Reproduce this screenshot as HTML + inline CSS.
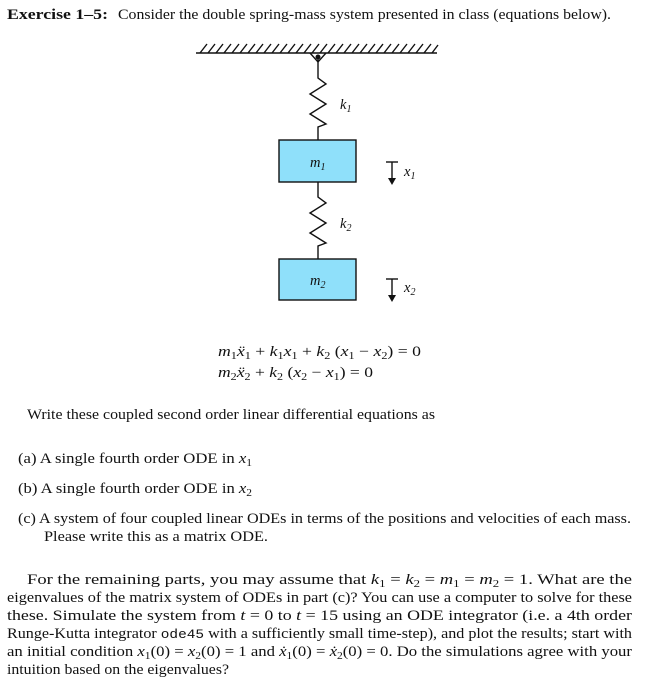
<!DOCTYPE html>
<html><head><meta charset="utf-8"><style>
html,body{margin:0;padding:0;background:#fff;}
svg{display:block;}
text{font-family:"Liberation Serif",serif;font-size:14.5px;fill:#111;}
.i{font-style:italic;}
.s{font-size:10px;}
.b{font-weight:bold;}
.m{font-family:"Liberation Mono",monospace;font-size:13px;}
</style></head><body>
<svg width="647" height="690" viewBox="0 0 647 690" xmlns="http://www.w3.org/2000/svg">
<text x="7" y="19" class="b" textLength="101" lengthAdjust="spacingAndGlyphs">Exercise 1–5:</text>
<text x="118" y="19" textLength="493" lengthAdjust="spacingAndGlyphs">Consider the double spring-mass system presented in class (equations below).</text>

<!-- ground -->
<g stroke="#111" stroke-width="1.4" fill="none">
<line x1="196" y1="53" x2="437" y2="53"/>
<path d="M200 53 l7 -9 M208 53 l7 -9 M216 53 l7 -9 M224 53 l7 -9 M232 53 l7 -9 M240 53 l7 -9 M248 53 l7 -9 M256 53 l7 -9 M264 53 l7 -9 M272 53 l7 -9 M280 53 l7 -9 M288 53 l7 -9 M296 53 l7 -9 M304 53 l7 -9 M312 53 l7 -9 M320 53 l7 -9 M328 53 l7 -9 M336 53 l7 -9 M344 53 l7 -9 M352 53 l7 -9 M360 53 l7 -9 M368 53 l7 -9 M376 53 l7 -9 M384 53 l7 -9 M392 53 l7 -9 M400 53 l7 -9 M408 53 l7 -9 M416 53 l7 -9 M424 53 l7 -9 M432 53 l6 -8"/>
<path d="M310 53 L318 62 L326 53"/>
<path d="M318 58 V78 L326 84 L310 94 L326 104 L310 114 L326 124 L318 127 V140"/>
<path d="M318 182 V197 L326 203 L310 213 L326 223 L310 233 L326 243 L318 246 V259"/>
<line x1="386" y1="162" x2="398" y2="162"/>
<line x1="392" y1="162" x2="392" y2="180"/>
<line x1="386" y1="279" x2="398" y2="279"/>
<line x1="392" y1="279" x2="392" y2="297"/>
</g>
<circle cx="318" cy="57" r="2.5" fill="#111"/>
<path d="M388 178 L392 185 L396 178 Z" fill="#111"/>
<path d="M388 295 L392 302 L396 295 Z" fill="#111"/>
<rect x="279" y="140" width="77" height="42" fill="#8fe0fa" stroke="#111" stroke-width="1.4"/>
<rect x="279" y="259" width="77" height="41" fill="#8fe0fa" stroke="#111" stroke-width="1.4"/>
<text x="310" y="167" class="i">m<tspan class="s" dy="3">1</tspan></text>
<text x="310" y="285" class="i">m<tspan class="s" dy="3">2</tspan></text>
<text x="340" y="109" class="i">k<tspan class="s" dy="3">1</tspan></text>
<text x="340" y="228" class="i">k<tspan class="s" dy="3">2</tspan></text>
<text x="404" y="176" class="i">x<tspan class="s" dy="3">1</tspan></text>
<text x="404" y="292" class="i">x<tspan class="s" dy="3">2</tspan></text>

<text x="218" y="356" textLength="203" lengthAdjust="spacingAndGlyphs"><tspan class="i">m</tspan><tspan class="s" dy="3">1</tspan><tspan class="i" dy="-3">ẍ</tspan><tspan class="s" dy="3">1</tspan><tspan dy="-3"> + </tspan><tspan class="i">k</tspan><tspan class="s" dy="3">1</tspan><tspan class="i" dy="-3">x</tspan><tspan class="s" dy="3">1</tspan><tspan dy="-3"> + </tspan><tspan class="i">k</tspan><tspan class="s" dy="3">2</tspan><tspan dy="-3"> (</tspan><tspan class="i">x</tspan><tspan class="s" dy="3">1</tspan><tspan dy="-3"> − </tspan><tspan class="i">x</tspan><tspan class="s" dy="3">2</tspan><tspan dy="-3">) = 0</tspan></text>
<text x="218" y="377" textLength="155" lengthAdjust="spacingAndGlyphs"><tspan class="i">m</tspan><tspan class="s" dy="3">2</tspan><tspan class="i" dy="-3">ẍ</tspan><tspan class="s" dy="3">2</tspan><tspan dy="-3"> + </tspan><tspan class="i">k</tspan><tspan class="s" dy="3">2</tspan><tspan dy="-3"> (</tspan><tspan class="i">x</tspan><tspan class="s" dy="3">2</tspan><tspan dy="-3"> − </tspan><tspan class="i">x</tspan><tspan class="s" dy="3">1</tspan><tspan dy="-3">) = 0</tspan></text>

<text x="27" y="419" textLength="408" lengthAdjust="spacingAndGlyphs">Write these coupled second order linear differential equations as</text>
<text x="18" y="463" textLength="234" lengthAdjust="spacingAndGlyphs">(a) A single fourth order ODE in <tspan class="i">x</tspan><tspan class="s" dy="3">1</tspan></text>
<text x="18" y="493" textLength="234" lengthAdjust="spacingAndGlyphs">(b) A single fourth order ODE in <tspan class="i">x</tspan><tspan class="s" dy="3">2</tspan></text>
<text x="18" y="523" textLength="613" lengthAdjust="spacingAndGlyphs">(c) A system of four coupled linear ODEs in terms of the positions and velocities of each mass.</text>
<text x="44" y="541" textLength="224" lengthAdjust="spacingAndGlyphs">Please write this as a matrix ODE.</text>

<text x="27" y="584" textLength="605" lengthAdjust="spacingAndGlyphs">For the remaining parts, you may assume that  <tspan class="i">k</tspan><tspan class="s" dy="3">1</tspan><tspan dy="-3">  =  </tspan><tspan class="i">k</tspan><tspan class="s" dy="3">2</tspan><tspan dy="-3">  =  </tspan><tspan class="i">m</tspan><tspan class="s" dy="3">1</tspan><tspan dy="-3">  =  </tspan><tspan class="i">m</tspan><tspan class="s" dy="3">2</tspan><tspan dy="-3">  =  1.  What are the</tspan></text>
<text x="7" y="602" textLength="625" lengthAdjust="spacingAndGlyphs">eigenvalues of the matrix system of ODEs in part (c)? You can use a computer to solve for these</text>
<text x="7" y="620" textLength="625" lengthAdjust="spacingAndGlyphs">these.  Simulate the system from <tspan class="i">t</tspan> = 0 to <tspan class="i">t</tspan> = 15 using an ODE integrator (i.e.  a 4th order</text>
<text x="7" y="638" textLength="625" lengthAdjust="spacingAndGlyphs">Runge-Kutta integrator <tspan class="m">ode45</tspan> with a sufficiently small time-step), and plot the results; start with</text>
<text x="7" y="656" textLength="625" lengthAdjust="spacingAndGlyphs">an initial condition <tspan class="i">x</tspan><tspan class="s" dy="3">1</tspan><tspan dy="-3">(0) = </tspan><tspan class="i">x</tspan><tspan class="s" dy="3">2</tspan><tspan dy="-3">(0) = 1 and </tspan><tspan class="i">ẋ</tspan><tspan class="s" dy="3">1</tspan><tspan dy="-3">(0) = </tspan><tspan class="i">ẋ</tspan><tspan class="s" dy="3">2</tspan><tspan dy="-3">(0) = 0. Do the simulations agree with your</tspan></text>
<text x="7" y="674" textLength="222" lengthAdjust="spacingAndGlyphs">intuition based on the eigenvalues?</text>
</svg>
</body></html>
